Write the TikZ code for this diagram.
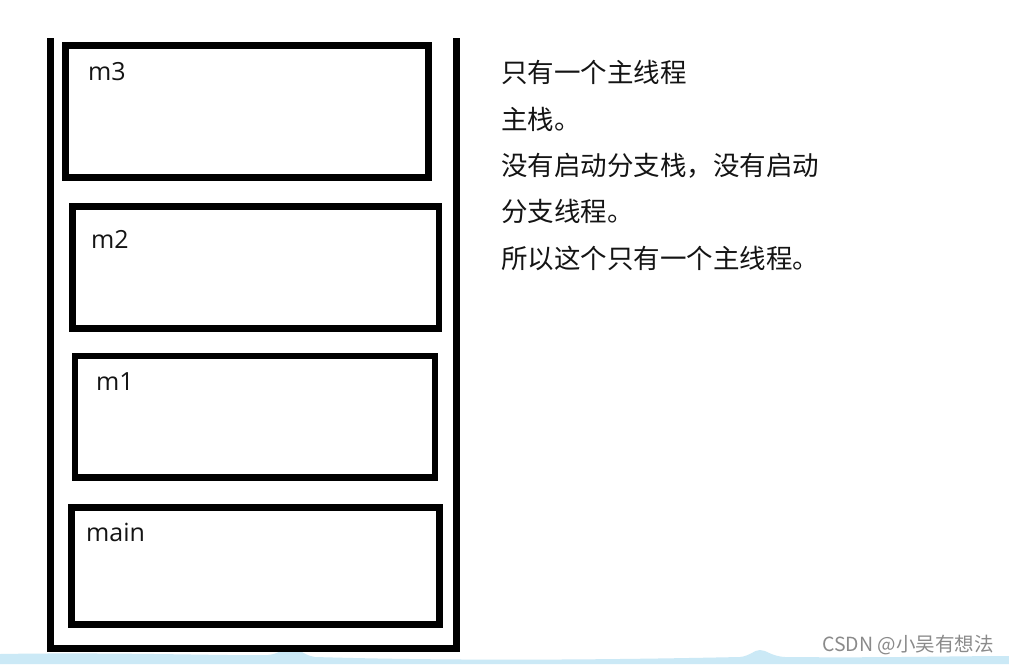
\documentclass[tikz,border=0pt]{standalone}
\usepackage{fontspec}
\setmainfont{Open Sans}
\newfontfamily\cjk{Noto Sans CJK SC}
\definecolor{wave}{HTML}{CBE9F6}
\definecolor{wmark}{HTML}{8A8A8A}
\definecolor{ink}{HTML}{141414}
\begin{document}
\begin{tikzpicture}[x=1pt,y=-1pt,
  framebox/.style={draw=black,line width=6.8pt,inner sep=0pt,outer sep=0pt,anchor=north west},
  lbl/.style={anchor=base west,inner sep=0pt,font=\fontsize{25}{30}\selectfont,text=ink},
  note/.style={anchor=west,inner sep=0pt,font=\cjk\fontsize{26.5}{30}\selectfont,text=ink},
  stackline/.style={draw=black,line width=7pt,line cap=butt,line join=miter}]
\useasboundingbox (0,0) rectangle (1009,664);
\fill[white] (0,0) rectangle (1009,664);
% light blue wave at the bottom
\fill[wave] (0,664) -- (0,654) .. controls (120,652) and (230,656) .. (268,655)
  .. controls (280,654) and (284,647) .. (291,647)
  .. controls (298,647) and (302,655) .. (315,657)
  .. controls (450,661) and (600,660) .. (740,657)
  .. controls (750,656) and (754,650) .. (760,650)
  .. controls (767,650) and (770,656) .. (785,657)
  .. controls (880,658) and (960,656) .. (1009,656) -- (1009,664) -- cycle;
% stack container
\coordinate (tl) at (50.5,38);
\coordinate (bl) at (50.5,648);
\coordinate (br) at (456,648);
\coordinate (tr) at (456,38);
\draw[stackline] (tl) -- (bl) -- (br) -- (tr);
% frames
\node[framebox,minimum width=363pt,minimum height=132pt] (m3) at (65.5,45.5) {};
\node[framebox,minimum width=366.6pt,minimum height=121.7pt] (m2) at (72.4,206.6) {};
\node[framebox,minimum width=360pt,minimum height=121.3pt] (m1) at (75,356) {};
\node[framebox,minimum width=368pt,minimum height=117pt] (main) at (71.5,507.5) {};
\node[lbl] (l3) at (88,80) {m3};
\node[lbl] (l2) at (91,248.5) {m2};
\node[lbl] (l1) at (96,390) {m1};
\node[lbl] (l0) at (86,541) {main};
% notes
\node[note] (t1) at (501,72.5) {只有一个主线程};
\node[note] (t2) at (501,119) {主栈。};
\node[note] (t3) at (501,166) {没有启动分支栈，没有启动};
\node[note] (t4) at (501,211.5) {分支线程。};
\node[note] (t5) at (501,258.5) {所以这个只有一个主线程。};
% watermark
\node[anchor=east,inner sep=0pt,text=wmark,font=\cjk\fontsize{19.5}{21}\selectfont] (wm) at (994,645) {CSDN @小吴有想法};
\end{tikzpicture}
\end{document}
